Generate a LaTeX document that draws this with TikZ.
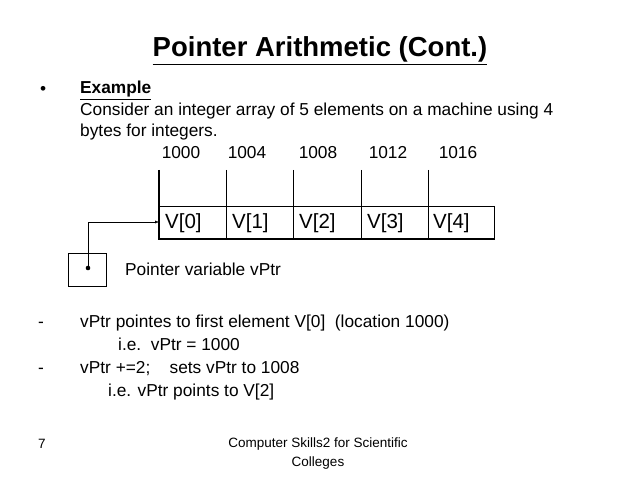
\documentclass[tikz,border=0pt]{standalone}
\usepackage{fontspec}
\setmainfont{Liberation Sans}
\usetikzlibrary{arrows.meta}
\begin{document}
\begin{tikzpicture}[x=1pt,y=-1pt,
  txt/.style={anchor=base west,inner sep=0pt,font=\fontsize{17.3}{19}\selectfont},
  addr/.style={anchor=base,inner sep=0pt,font=\fontsize{17.3}{19}\selectfont},
  cell/.style={anchor=base west,inner sep=0pt,font=\fontsize{20.5}{22}\selectfont},
  foot/.style={anchor=base,inner sep=0pt,font=\fontsize{13.5}{15}\selectfont}]
\useasboundingbox[fill=white] (0,0) rectangle (638,478);
\node[anchor=base,inner sep=0pt,font=\fontsize{27.5}{30}\bfseries] (title) at (320,57) {\underline{Pointer Arithmetic (Cont.)}};
\node[txt] (bul) at (40,95) {\textbullet};
\node[txt,font=\fontsize{17.3}{19}\bfseries] (ex) at (80,94) {\underline{Example}};
\node[txt] (l1) at (80,116) {Consider an integer array of 5 elements on a machine using 4};
\node[txt] (l2) at (80,137) {bytes for integers.};
\node[addr] (a0) at (181,159) {1000};
\node[addr] (a1) at (247,159) {1004};
\node[addr] (a2) at (318,159) {1008};
\node[addr] (a3) at (388,159) {1012};
\node[addr] (a4) at (458,159) {1016};
% array
\draw (159,206) rectangle (494,239);
\draw[line width=1.6pt] (159,170) -- (159,239) -- (494,239);
\draw[line width=1pt] (494,206) -- (494,239);
\foreach \x in {226,293,361,428} \draw (\x,170) -- (\x,239);
\node[cell] at (165,229) {V[0]};
\node[cell] at (232,229) {V[1]};
\node[cell] at (299,229) {V[2]};
\node[cell] at (367,229) {V[3]};
\node[cell] at (433,229) {V[4]};
\coordinate (v0) at (159,222);
% pointer
\draw (68,253) rectangle (106,286);
\fill (88,268) circle (2.3);
\coordinate (dot) at (88,268);
\draw[-{Latex[length=4pt,width=3pt]}] (dot) |- (v0);
\node[txt] (pv) at (125,276) {Pointer variable vPtr};
\node[txt] (d1) at (38,328) {-};
\node[txt] (t1) at (80,328) {vPtr pointes to first element V[0]\ \ (location 1000)};
\node[txt] (t2) at (118,351) {i.e.\ \ vPtr = 1000};
\node[txt] (d2) at (38,374) {-};
\node[txt] (t3) at (80,374) {vPtr +=2;\ \ \ \ sets vPtr to 1008};
\node[txt] (t4) at (108,397) {i.e. vPtr points to V[2]};
\node[foot,anchor=base west] (pg) at (38,449) {7};
\node[foot] (f1) at (318,448) {Computer Skills2 for Scientific};
\node[foot] (f2) at (318,467) {Colleges};
\end{tikzpicture}
\end{document}
